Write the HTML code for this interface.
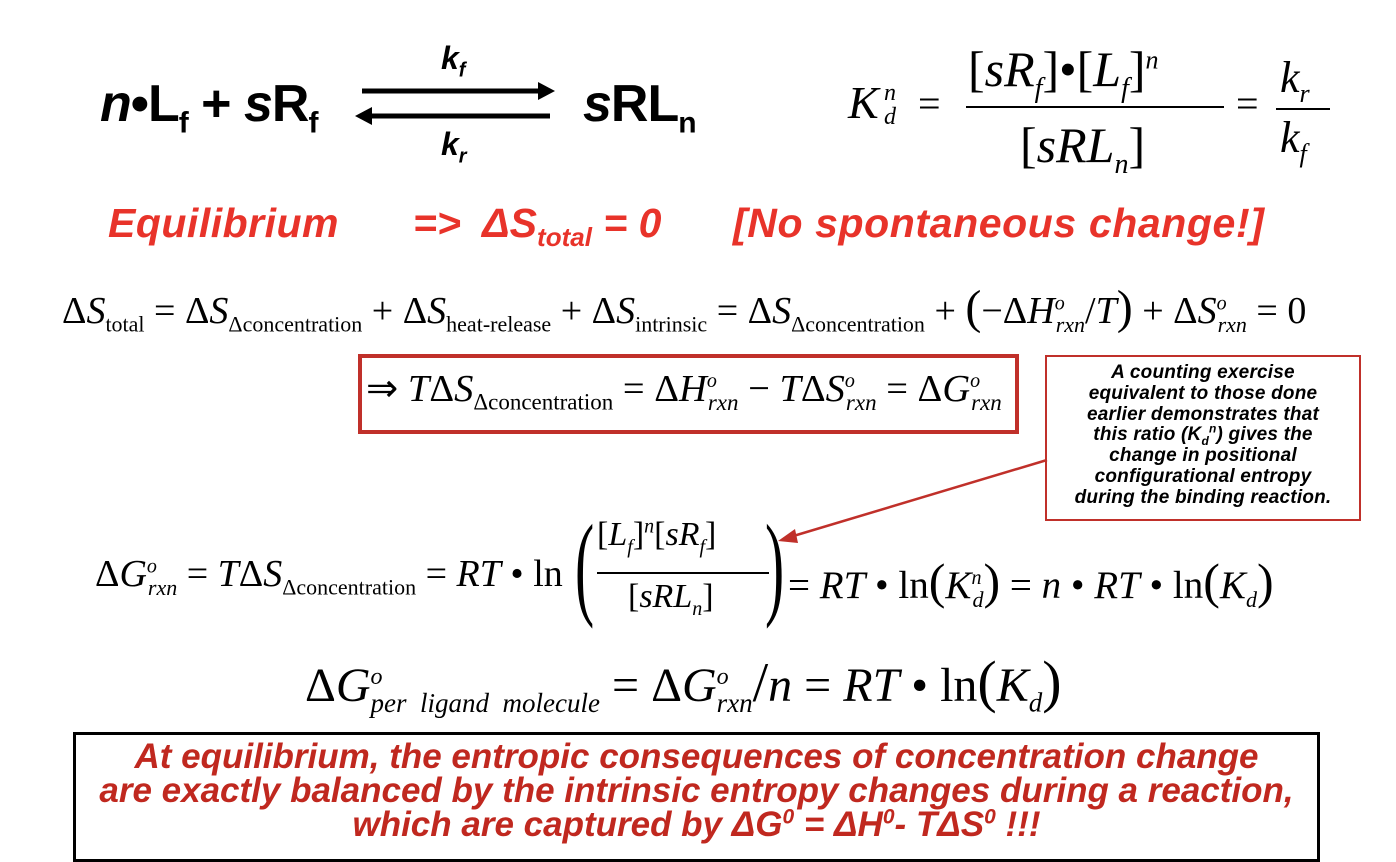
<!DOCTYPE html>
<html><head><meta charset="utf-8"><style>
body{margin:0;width:1396px;height:856px;background:#fff;position:relative;overflow:hidden;font-family:"Liberation Serif",serif}
.a{position:absolute;white-space:nowrap}
.sans{font-family:"Liberation Sans",sans-serif;font-weight:bold}
.m{font-family:"Liberation Serif",serif;color:#000}
.i{font-style:italic}
sub,sup{font-size:60%;line-height:0}
.red{color:#e8332a}
</style></head><body>
<!-- reaction -->
<div class="a sans" style="left:100px;top:74px;font-size:52px;letter-spacing:-1px"><i>n</i>•L<sub style="font-size:30px">f</sub> + <i>s</i>R<sub style="font-size:30px">f</sub></div>
<svg class="a" style="left:350px;top:75px" width="210" height="55">
<line x1="12" y1="16" x2="190" y2="16" stroke="#000" stroke-width="5"/><polygon points="188,7 205,16 188,25" fill="#000"/>
<line x1="20" y1="41" x2="200" y2="41" stroke="#000" stroke-width="5"/><polygon points="22,32 5,41 22,50" fill="#000"/>
</svg>
<div class="a sans i" style="left:441px;top:40px;font-size:32px">k<sub style="font-size:20px">f</sub></div>
<div class="a sans i" style="left:441px;top:126px;font-size:32px">k<sub style="font-size:20px">r</sub></div>
<div class="a sans" style="left:583px;top:74px;font-size:52px;letter-spacing:-1px"><i>s</i>RL<sub style="font-size:30px">n</sub></div>
<!-- Kd -->
<div class="a m i" style="left:848px;top:76px;font-size:46px">K</div>
<div class="a m i" style="left:884px;top:80px;font-size:24px">n</div>
<div class="a m i" style="left:884px;top:104px;font-size:24px">d</div>
<div class="a m" style="left:918px;top:80px;font-size:40px">=</div>
<div class="a m" style="left:968px;top:40px;font-size:50px">[<i>sR<sub style="font-size:28px">f</sub></i>]•[<i>L<sub style="font-size:28px">f</sub></i>]<sup class="i" style="font-size:26px">n</sup></div>
<div class="a" style="left:966px;top:106px;width:258px;height:2px;background:#000"></div>
<div class="a m" style="left:1020px;top:116px;font-size:50px">[<i>sRL<sub style="font-size:28px">n</sub></i>]</div>
<div class="a m" style="left:1236px;top:80px;font-size:40px">=</div>
<div class="a m i" style="left:1280px;top:52px;font-size:44px">k<sub style="font-size:26px">r</sub></div>
<div class="a" style="left:1276px;top:108px;width:54px;height:2px;background:#000"></div>
<div class="a m i" style="left:1280px;top:112px;font-size:44px">k<sub style="font-size:26px">f</sub></div>
<!-- red line -->
<div class="a sans i red" style="left:108px;top:200px;font-size:41px;letter-spacing:0.5px">Equilibrium</div>
<div class="a sans i red" style="left:413px;top:200px;font-size:41px">=&gt;&nbsp; ΔS<sub style="font-size:26px">total</sub> = 0</div>
<div class="a sans i red" style="left:733px;top:200px;font-size:41px;letter-spacing:0.6px">[No spontaneous change!]</div>
<!-- ΔS line -->
<div class="a m" style="left:62px;top:280px;font-size:38px">Δ<i>S</i><sub style="font-size:22px">total</sub> = Δ<i>S</i><sub style="font-size:22px">Δconcentration</sub> + Δ<i>S</i><sub style="font-size:22px">heat-release</sub> + Δ<i>S</i><sub style="font-size:22px">intrinsic</sub> = Δ<i>S</i><sub style="font-size:22px">Δconcentration</sub> + <span style="font-size:48px">(</span>−Δ<i>H</i><sup class="i" style="font-size:20px">o</sup><sub class="i" style="font-size:22px;margin-left:-9px">rxn</sub>/<i>T</i><span style="font-size:48px">)</span> + Δ<i>S</i><sup class="i" style="font-size:20px">o</sup><sub class="i" style="font-size:22px;margin-left:-9px">rxn</sub> = 0</div>
<!-- red box -->
<div class="a" style="left:358px;top:354px;width:653px;height:72px;border:4px solid #c0302a"></div>
<div class="a m" style="left:366px;top:366px;font-size:38.5px">⇒ <i>T</i>Δ<i>S</i><sub style="font-size:23px">Δconcentration</sub> = Δ<i>H</i><sup class="i" style="font-size:20px">o</sup><sub class="i" style="font-size:23px;margin-left:-9px">rxn</sub> − <i>T</i>Δ<i>S</i><sup class="i" style="font-size:20px">o</sup><sub class="i" style="font-size:23px;margin-left:-9px">rxn</sub> = Δ<i>G</i><sup class="i" style="font-size:20px">o</sup><sub class="i" style="font-size:23px;margin-left:-9px">rxn</sub></div>
<!-- callout -->
<div class="a sans i" style="left:1045px;top:355px;width:316px;height:166px;border:2px solid #c0302a;box-sizing:border-box;font-size:19px;line-height:20.8px;text-align:center;padding-top:6px;letter-spacing:0.2px">A counting exercise<br>equivalent to those done<br>earlier demonstrates that<br>this ratio (K<sub style="font-size:12px">d</sub><sup style="font-size:12px">n</sup>) gives the<br>change in positional<br>configurational entropy<br>during the binding reaction.</div>
<svg class="a" style="left:0;top:0" width="1396" height="856"><line x1="1047" y1="460" x2="790" y2="537" stroke="#c0302a" stroke-width="2.5"/><polygon points="778,541 795,529 798,543" fill="#c0302a"/></svg>
<!-- ΔG line -->
<div class="a m" style="left:95px;top:552px;font-size:38px">Δ<i>G</i><sup class="i" style="font-size:20px">o</sup><sub class="i" style="font-size:22px;margin-left:-9px">rxn</sub> = <i>T</i>Δ<i>S</i><sub style="font-size:22px">Δconcentration</sub> = <i>RT</i> • ln</div>
<div class="a m" style="left:575px;top:500px;font-size:115px;transform:scaleX(0.5);transform-origin:left">(</div>
<div class="a m" style="left:597px;top:516px;font-size:34px">[<i>L<sub style="font-size:20px">f</sub></i>]<sup class="i" style="font-size:20px">n</sup>[<i>sR<sub style="font-size:20px">f</sub></i>]</div>
<div class="a" style="left:597px;top:572px;width:172px;height:2px;background:#000"></div>
<div class="a m" style="left:628px;top:578px;font-size:34px">[<i>sRL<sub style="font-size:20px">n</sub></i>]</div>
<div class="a m" style="left:765px;top:500px;font-size:115px;transform:scaleX(0.5);transform-origin:left">)</div>
<div class="a m" style="left:788px;top:552px;font-size:39px">= <i>RT</i> • ln<span style="font-size:50px">(</span><i>K</i><sup class="i" style="font-size:20px">n</sup><sub class="i" style="font-size:22px;margin-left:-9px">d</sub><span style="font-size:50px">)</span> = <i>n</i> • <i>RT</i> • ln<span style="font-size:50px">(</span><i>K</i><sub class="i" style="font-size:22px">d</sub><span style="font-size:50px">)</span></div>
<!-- per ligand -->
<div class="a m" style="left:305px;top:648px;font-size:48px">Δ<i>G</i><sup class="i" style="font-size:24px">o</sup><sub class="i" style="font-size:27px;margin-left:-12px">per&nbsp; ligand&nbsp; molecule</sub> = Δ<i>G</i><sup class="i" style="font-size:24px">o</sup><sub class="i" style="font-size:27px;margin-left:-12px">rxn</sub><span style="font-size:56px">/</span><i>n</i> = <i>RT</i> • ln<span style="font-size:58px">(</span><i>K</i><sub class="i" style="font-size:27px">d</sub><span style="font-size:58px">)</span></div>
<!-- bottom box -->
<div class="a sans i" style="left:73px;top:732px;width:1247px;height:130px;border:3px solid #000;box-sizing:border-box;color:#c0281f;font-size:35px;line-height:34px;text-align:center;padding-top:5px;letter-spacing:0px">At equilibrium, the entropic consequences of concentration change<br>are exactly balanced by the intrinsic entropy changes during a reaction,<br>which are captured by ΔG<sup style="font-size:21px">0</sup> = ΔH<sup style="font-size:21px">0</sup>- TΔS<sup style="font-size:21px">0</sup> !!!</div>
</body></html>
